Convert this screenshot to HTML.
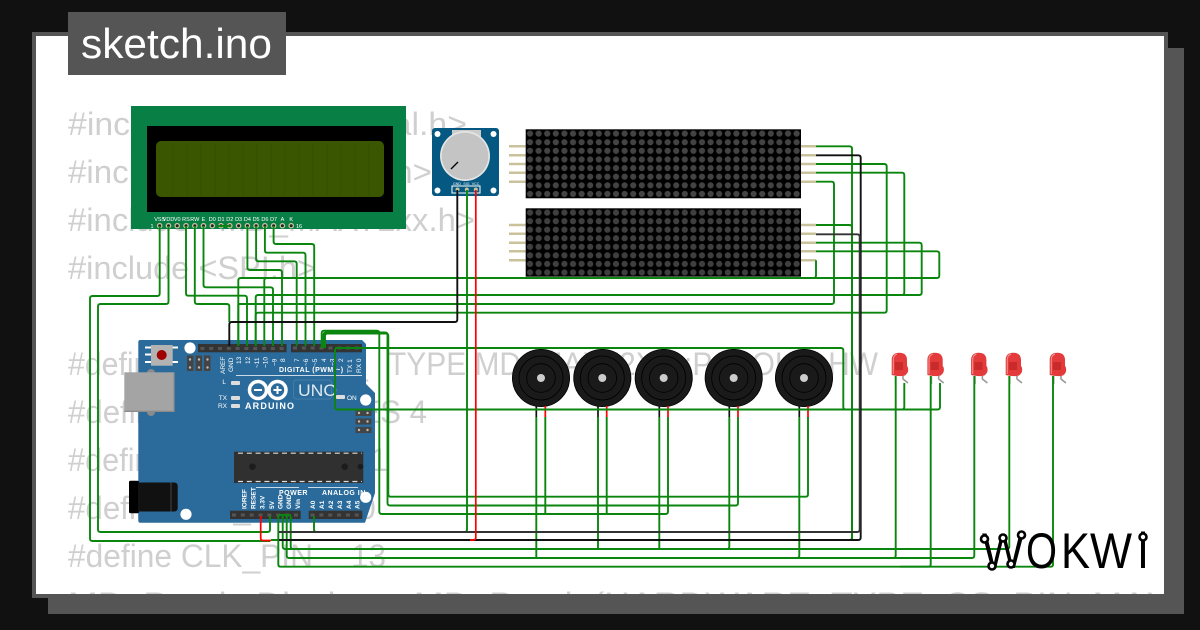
<!DOCTYPE html>
<html><head><meta charset="utf-8"><style>
html,body{margin:0;padding:0;background:#111;width:1200px;height:630px;overflow:hidden}
svg{display:block}
text{font-family:"Liberation Sans",sans-serif}
.c{fill:#cfcfcf;font-size:32px}
.w{fill:none;stroke:#0a860f;stroke-width:1.9;stroke-linejoin:round}
.k{fill:none;stroke:#111;stroke-width:1.9;stroke-linejoin:round}
.r{fill:none;stroke:#f00;stroke-width:1.7;stroke-linejoin:round}
.pin{stroke:#c9c29a;stroke-width:2.5}
.l{fill:#fff;font-size:6.5px}
.b{fill:#fff;font-size:7px;font-weight:bold;letter-spacing:.5px}
.lcdl{fill:#fff;font-size:5.5px;text-anchor:middle}
</style></head><body>
<svg width="1200" height="630" viewBox="0 0 1200 630" xmlns="http://www.w3.org/2000/svg">
<defs>
<pattern id="dots" x="525.7" y="129.3" width="8.6" height="8.62" patternUnits="userSpaceOnUse"><circle cx="4.3" cy="4.3" r="3.1" fill="#434343"/></pattern>
<pattern id="dots2" x="525.7" y="208.3" width="8.6" height="8.55" patternUnits="userSpaceOnUse"><circle cx="4.3" cy="4.3" r="3.1" fill="#3f3f3f"/></pattern>
<pattern id="hdr" x="198" y="344" width="8.8" height="8.3" patternUnits="userSpaceOnUse"><rect width="8.8" height="8.3" fill="#333"/><rect x="2.4" y="3" width="4" height="3" fill="#555"/></pattern>
<clipPath id="cp"><rect x="36" y="36" width="1128" height="558"/></clipPath>
</defs>
<rect width="1200" height="630" fill="#111"/>
<rect x="48" y="48" width="1136" height="566" fill="#555"/>
<rect x="32" y="32" width="1136" height="566" fill="#555"/>
<rect x="36" y="36" width="1128" height="558" fill="#fff"/>
<g clip-path="url(#cp)">
<text class="c" x="68" y="135" textLength="399" lengthAdjust="spacingAndGlyphs">#include &lt;LiquidCrystal.h&gt;</text>
<text class="c" x="68" y="183" textLength="364" lengthAdjust="spacingAndGlyphs">#include &lt;MD_Parola.h&gt;</text>
<text class="c" x="68" y="231" textLength="407" lengthAdjust="spacingAndGlyphs">#include &lt;MD_MAX72xx.h&gt;</text>
<text class="c" x="68" y="279" textLength="248" lengthAdjust="spacingAndGlyphs">#include &lt;SPI.h&gt;</text>
<text class="c" x="68" y="375" textLength="300" lengthAdjust="spacingAndGlyphs">#define HARDWARE_</text>
<text class="c" x="388" y="375" textLength="490" lengthAdjust="spacingAndGlyphs">TYPE MD_MAX72XX::PAROLA_HW</text>
<text class="c" x="68" y="423" textLength="359" lengthAdjust="spacingAndGlyphs">#define MAX_DEVICES 4</text>
<text class="c" x="68" y="471" textLength="220" lengthAdjust="spacingAndGlyphs">#define CS_PIN</text><text class="c" x="370" y="471">1</text>
<text class="c" x="68" y="519" textLength="235" lengthAdjust="spacingAndGlyphs">#define DIN_PIN</text><text class="c" x="358" y="519">0</text>
<text class="c" x="68" y="567" textLength="245" lengthAdjust="spacingAndGlyphs">#define CLK_PIN</text><text class="c" x="351" y="567" textLength="35" lengthAdjust="spacingAndGlyphs">13</text>
<text class="c" x="68" y="615" textLength="1300" lengthAdjust="spacingAndGlyphs">MD_Parola Display = MD_Parola(HARDWARE_TYPE, CS_PIN, MAX_DEVICES);</text>
</g>

<!-- LCD -->
<rect x="131" y="106" width="275" height="123" fill="#087f45"/>
<rect x="147" y="126" width="246" height="86" fill="#000"/>
<rect x="156" y="141" width="228" height="56" rx="5" fill="#3a5600"/>
<g stroke="#365000" stroke-width="1">
<path d="M173 143V195M187 143V195M201 143V195M215 143V195M229 143V195M243 143V195M257 143V195M271 143V195M285 143V195M299 143V195M313 143V195M327 143V195M341 143V195M355 143V195M369 143V195"/>
</g>
<g class="lcdl">
<text x="159.7" y="221">VSS</text><text x="168.5" y="221">VDD</text><text x="177.2" y="221">V0</text><text x="186" y="221">RS</text><text x="194.8" y="221">RW</text><text x="203.5" y="221">E</text><text x="212.3" y="221">D0</text><text x="221" y="221">D1</text><text x="229.8" y="221">D2</text><text x="238.6" y="221">D3</text><text x="247.4" y="221">D4</text><text x="256.1" y="221">D5</text><text x="264.9" y="221">D6</text><text x="273.6" y="221">D7</text><text x="282.4" y="221">A</text><text x="291.2" y="221">K</text>
<text x="152" y="228">1</text><text x="299" y="228">16</text>
</g>
<g fill="#c9c29a">
<circle cx="159.7" cy="225.7" r="2.8"/><circle cx="168.5" cy="225.7" r="2.8"/><circle cx="177.2" cy="225.7" r="2.8"/><circle cx="186" cy="225.7" r="2.8"/><circle cx="194.8" cy="225.7" r="2.8"/><circle cx="203.5" cy="225.7" r="2.8"/><circle cx="212.3" cy="225.7" r="2.8"/><circle cx="221" cy="225.7" r="2.8"/><circle cx="229.8" cy="225.7" r="2.8"/><circle cx="238.6" cy="225.7" r="2.8"/><circle cx="247.4" cy="225.7" r="2.8"/><circle cx="256.1" cy="225.7" r="2.8"/><circle cx="264.9" cy="225.7" r="2.8"/><circle cx="273.6" cy="225.7" r="2.8"/><circle cx="282.4" cy="225.7" r="2.8"/><circle cx="291.2" cy="225.7" r="2.8"/>
</g>
<g fill="#222">
<circle cx="159.7" cy="225.7" r="1.5"/><circle cx="168.5" cy="225.7" r="1.5"/><circle cx="177.2" cy="225.7" r="1.5"/><circle cx="186" cy="225.7" r="1.5"/><circle cx="194.8" cy="225.7" r="1.5"/><circle cx="203.5" cy="225.7" r="1.5"/><circle cx="212.3" cy="225.7" r="1.5"/><circle cx="221" cy="225.7" r="1.5"/><circle cx="229.8" cy="225.7" r="1.5"/><circle cx="238.6" cy="225.7" r="1.5"/><circle cx="247.4" cy="225.7" r="1.5"/><circle cx="256.1" cy="225.7" r="1.5"/><circle cx="264.9" cy="225.7" r="1.5"/><circle cx="273.6" cy="225.7" r="1.5"/><circle cx="282.4" cy="225.7" r="1.5"/><circle cx="291.2" cy="225.7" r="1.5"/>
</g>
<path class="w" d="M217 226H231"/>

<!-- Pot -->
<rect x="432" y="128" width="67" height="68" rx="3" fill="#045881"/>
<g fill="#fff"><circle cx="437.5" cy="134" r="3"/><circle cx="493.5" cy="134" r="3"/><circle cx="437.5" cy="190.5" r="3"/><circle cx="493.5" cy="190.5" r="3"/></g>
<rect x="452" y="130" width="29" height="8" fill="#ccc"/>
<circle cx="465" cy="156" r="25" fill="#e4e4e4"/>
<circle cx="465" cy="156" r="23.3" fill="#c4c4c4"/>
<path d="M451 169L458 162" stroke="#000" stroke-width="1.3"/>
<rect x="452" y="186" width="28" height="7" fill="none" stroke="#fff" stroke-width="1"/>
<g fill="#fff" font-size="3.6" text-anchor="middle"><text x="457" y="185">GND</text><text x="466.5" y="185">SIG</text><text x="475.5" y="185">VCC</text></g>
<g fill="#c9c29a"><circle cx="457.5" cy="189.5" r="2"/><circle cx="466.8" cy="189.5" r="2"/><circle cx="475.8" cy="189.5" r="2"/></g>

<!-- Matrices -->
<g class="pin">
<path d="M509 146.3H526M509 155.3H526M509 164H526M509 172.7H526M509 181.7H526M801 146.3H816M801 155.3H816M801 164H816M801 172.7H816M801 181.7H816"/>
<path d="M509 225H526M509 233.7H526M509 242.7H526M509 251.3H526M509 260.3H526M801 225H816M801 233.7H816M801 242.7H816M801 251.3H816M801 260.3H816"/>
</g>
<rect x="525.7" y="129.3" width="275.3" height="69" fill="#000"/>
<rect x="525.7" y="129.3" width="275.3" height="69" fill="url(#dots)"/>
<rect x="525.7" y="208.3" width="275.3" height="68.4" fill="#000"/>
<rect x="525.7" y="208.3" width="275.3" height="68.4" fill="url(#dots2)"/>

<!-- Arduino -->
<path d="M138.3 342Q138.3 340 140.3 340H362L366 344V384L375 393V493L365 522.7H140.3Q138.3 522.7 138.3 520.7Z" fill="#2b6b9b"/>
<circle cx="190" cy="348" r="5.6" fill="#fff"/><circle cx="365.7" cy="400" r="5.6" fill="#fff"/><circle cx="186" cy="514.3" r="5.6" fill="#fff"/><circle cx="365.7" cy="497.3" r="5.6" fill="#fff"/>
<!-- reset -->
<g stroke="#fff" stroke-width="2"><path d="M145 347.5H151M145 354.5H151M145 362H151M172 347.5H178M172 362H178"/></g>
<rect x="151" y="345" width="21.7" height="20.7" fill="#b3b3b3"/>
<circle cx="161.7" cy="355" r="5" fill="#a00000"/>
<!-- icsp -->
<g fill="#444"><rect x="187" y="355.5" width="6.5" height="15.5"/><rect x="195.5" y="355.5" width="6.5" height="15.5"/><rect x="204" y="355.5" width="6.5" height="15.5"/><rect x="355.5" y="410" width="16" height="6"/><rect x="355.5" y="418.5" width="16" height="6"/><rect x="355.5" y="427" width="16" height="6"/></g>
<g fill="#bbb"><circle cx="190" cy="359.5" r="1.2"/><circle cx="199" cy="359.5" r="1.2"/><circle cx="207.5" cy="359.5" r="1.2"/><circle cx="190" cy="367.5" r="1.2"/><circle cx="199" cy="367.5" r="1.2"/><circle cx="207.5" cy="367.5" r="1.2"/><circle cx="359" cy="413" r="1.2"/><circle cx="367.5" cy="413" r="1.2"/><circle cx="359" cy="421.5" r="1.2"/><circle cx="367.5" cy="421.5" r="1.2"/><circle cx="359" cy="430" r="1.2"/><circle cx="367.5" cy="430" r="1.2"/></g>
<!-- usb -->
<circle cx="151" cy="373" r="4" fill="#8a8a8a"/><circle cx="151" cy="412" r="4" fill="#8a8a8a"/>
<rect x="124.3" y="372.3" width="49.7" height="39.7" fill="#a4a4a4"/>
<path d="M124.3 411.3H174V372.3" fill="none" stroke="#8c8c8c" stroke-width="1.3"/>
<!-- jack -->
<rect x="129" y="480.7" width="10" height="32.5" rx="1.5" fill="#000"/>
<path d="M138 482.5H174Q177.7 482.5 177.7 486V508Q177.7 511.5 174 511.5H138Z" fill="#111"/>
<rect x="170" y="482.5" width="2" height="29" fill="#2b2b2b"/>
<!-- headers -->
<rect x="198" y="344" width="88.6" height="8.3" fill="url(#hdr)"/>
<rect x="291" y="344" width="71" height="8.3" fill="#333"/>
<path d="M293 348H360" stroke="#555" stroke-width="3" stroke-dasharray="4 4.85"/>
<rect x="230" y="510.7" width="70.7" height="8.3" fill="#333"/>
<path d="M232 515H299" stroke="#555" stroke-width="3" stroke-dasharray="4 4.85"/>
<rect x="308.7" y="510.7" width="53.6" height="8.3" fill="#333"/>
<path d="M310.5 515H361" stroke="#555" stroke-width="3" stroke-dasharray="4 4.85"/>
<!-- chip -->
<rect x="234" y="451.7" width="129.3" height="31.3" fill="#303030"/>
<path d="M238 453.2H362M238 481.5H362" stroke="#ddd" stroke-width="1.2" stroke-dasharray="5 3.8"/>
<g fill="#1c1c1c"><circle cx="252.5" cy="466.7" r="3.3"/><circle cx="344.7" cy="466.7" r="3.3"/><circle cx="360.5" cy="466.7" r="2.8"/></g>
<!-- labels top -->
<g class="l">
<text transform="translate(225,374) rotate(-90)">AREF</text>
<text transform="translate(233,372) rotate(-90)">GND</text>
<text transform="translate(241,364) rotate(-90)">13</text>
<text transform="translate(250,364) rotate(-90)">12</text>
<text transform="translate(259,368) rotate(-90)">~11</text>
<text transform="translate(267.5,368) rotate(-90)">~10</text>
<text transform="translate(276.5,366) rotate(-90)">~9</text>
<text transform="translate(285,362) rotate(-90)">8</text>
<text transform="translate(299,362) rotate(-90)">7</text>
<text transform="translate(308,366) rotate(-90)">~6</text>
<text transform="translate(317,366) rotate(-90)">~5</text>
<text transform="translate(326,362) rotate(-90)">4</text>
<text transform="translate(334.5,366) rotate(-90)">~3</text>
<text transform="translate(343,362) rotate(-90)">2</text>
<text transform="translate(352,373) rotate(-90)">TX 1</text>
<text transform="translate(361,373) rotate(-90)">RX 0</text>
</g>
<text class="b" x="279" y="372">DIGITAL (PWM ~)</text>
<path d="M236 375.5H362" stroke="#fff" stroke-width=".7"/>
<g class="l" text-anchor="end"><text x="226" y="384">L</text><text x="227" y="400">TX</text><text x="227" y="408">RX</text></g>
<g fill="#ddd"><rect x="231" y="381" width="9" height="4" rx="1"/><rect x="231" y="396" width="9" height="4" rx="1"/><rect x="231" y="404" width="9" height="4" rx="1"/><rect x="336" y="395" width="9" height="4" rx="1"/></g>
<text class="l" x="347" y="400">ON</text>
<!-- logo -->
<g fill="none" stroke="#fff" stroke-width="3.5"><circle cx="258" cy="390" r="8.5"/><circle cx="277.5" cy="390" r="8.5"/></g>
<path d="M254 390H262M273.5 390H281.5M277.5 386V394" stroke="#fff" stroke-width="2"/>
<text x="245" y="409" fill="#fff" font-size="9" font-weight="bold" textLength="49" lengthAdjust="spacing">ARDUINO</text>
<rect x="293.5" y="380" width="38" height="19" rx="3" fill="none" stroke="#4c85b0" stroke-width=".7"/>
<text x="298" y="396" fill="#dfe8f0" font-size="17" textLength="39" lengthAdjust="spacingAndGlyphs">UNO</text>
<!-- labels bottom -->
<g class="l" font-weight="bold">
<text transform="translate(246.5,509) rotate(-90)">IOREF</text>
<text transform="translate(255.5,509) rotate(-90)">RESET</text>
<text transform="translate(264.5,509) rotate(-90)">3.3V</text>
<text transform="translate(274,509) rotate(-90)">5V</text>
<text transform="translate(282.5,509) rotate(-90)">GND</text>
<text transform="translate(291,509) rotate(-90)">GND</text>
<text transform="translate(300,509) rotate(-90)">Vin</text>
<text transform="translate(315,509) rotate(-90)">A0</text>
<text transform="translate(324,509) rotate(-90)">A1</text>
<text transform="translate(333,509) rotate(-90)">A2</text>
<text transform="translate(342,509) rotate(-90)">A3</text>
<text transform="translate(351,509) rotate(-90)">A4</text>
<text transform="translate(359.5,509) rotate(-90)">A5</text>
</g>
<text class="b" x="279" y="495">POWER</text>
<text class="b" x="322" y="495">ANALOG IN</text>
<path d="M256 487.5H299M308 487.5H358" stroke="#fff" stroke-width=".7"/>

<!-- Buzzers -->
<g stroke="#000" stroke-width=".8">
<circle cx="541" cy="378" r="28.6" fill="#1a1a1a"/><circle cx="541" cy="378" r="22" fill="none"/><circle cx="541" cy="378" r="14.3" fill="none"/>
<circle cx="602.3" cy="378" r="28.6" fill="#1a1a1a"/><circle cx="602.3" cy="378" r="22" fill="none"/><circle cx="602.3" cy="378" r="14.3" fill="none"/>
<circle cx="663.7" cy="378" r="28.6" fill="#1a1a1a"/><circle cx="663.7" cy="378" r="22" fill="none"/><circle cx="663.7" cy="378" r="14.3" fill="none"/>
<circle cx="733.7" cy="378" r="28.6" fill="#1a1a1a"/><circle cx="733.7" cy="378" r="22" fill="none"/><circle cx="733.7" cy="378" r="14.3" fill="none"/>
<circle cx="804" cy="378" r="28.6" fill="#1a1a1a"/><circle cx="804" cy="378" r="22" fill="none"/><circle cx="804" cy="378" r="14.3" fill="none"/>
</g>
<g fill="#ccc"><circle cx="541" cy="378" r="4"/><circle cx="602.3" cy="378" r="4"/><circle cx="663.7" cy="378" r="4"/><circle cx="733.7" cy="378" r="4"/><circle cx="804" cy="378" r="4"/></g>
<path d="M536.3 406V417M598 406V417M659.3 406V417M729.3 406V417M799.3 406V417" stroke="#111" stroke-width="1.7"/>
<path d="M545.3 406V417M606.7 406V417M668 406V417M738 406V417M808 406V417" stroke="#f00" stroke-width="1.7"/>

<!-- LEDs -->
<g id="leds">
<g stroke="#999" stroke-width="1.6" fill="none"><path d="M895.7 376V384M903 376V379L908 383M931.4 376V384M938.7 376V379L943.7 383M975 376V384M982.4 376V379L987.4 383M1009.7 376V384M1017 376V379L1022 383M1053.7 376V384M1061 376V379L1066 383"/></g>
<g fill="#e33b3b">
<path d="M891.7 375V360Q891.7 352.7 899.3 352.7T907 360V366Q908.2 367 908.2 370T905 375.5Q900 377 891.7 375Z"/>
<path d="M927.4 375V360Q927.4 352.7 935 352.7T942.7 360V366Q943.9 367 943.9 370T940.7 375.5Q935.7 377 927.4 375Z"/>
<path d="M971.1 375V360Q971.1 352.7 978.7 352.7T986.4 360V366Q987.6 367 987.6 370T984.4 375.5Q979.4 377 971.1 375Z"/>
<path d="M1005.7 375V360Q1005.7 352.7 1013.3 352.7T1021 360V366Q1022.2 367 1022.2 370T1019 375.5Q1014 377 1005.7 375Z"/>
<path d="M1049.7 375V360Q1049.7 352.7 1057.3 352.7T1065 360V366Q1066.2 367 1066.2 370T1063 375.5Q1058 377 1049.7 375Z"/>
</g>
<g fill="#c92a2a"><rect x="895" y="362" width="8" height="8"/><rect x="930.7" y="362" width="8" height="8"/><rect x="974.4" y="362" width="8" height="8"/><rect x="1009" y="362" width="8" height="8"/><rect x="1053" y="362" width="8" height="8"/></g>
<g fill="none" stroke="#f58f8f" stroke-width="1.1"><path d="M893.3 374V360Q893.3 355 897 354.2M929 374V360Q929 355 932.7 354.2M972.7 374V360Q972.7 355 976.4 354.2M1007.3 374V360Q1007.3 355 1011 354.2M1051.3 374V360Q1051.3 355 1055 354.2"/></g>
</g>

<!-- Green wires -->
<g class="w">
<path d="M159.7 226V293.5Q159.7 296 157.2 296H92.5Q90 296 90 298.5V538.5Q90 541 92.5 541H270"/>
<path d="M168.5 226V301.5Q168.5 304 166 304H100.5Q98 304 98 306.5V529.5Q98 532 100.5 532H267.5Q270 532 270 529.5V516"/>
<path d="M186 226V293.2Q186 295.7 188.5 295.7H244.5Q247 295.7 247 298.2V346"/>
<path d="M194.8 226V301.5Q194.8 304 197.3 304H226.8Q229.3 304 229.3 306.5V322"/>
<path d="M203.5 226V284.8Q203.5 287.3 206 287.3H270.5Q273 287.3 273 289.8V346"/>
<path d="M247.4 226V267.5Q247.4 270 249.9 270H279.5Q282 270 282 272.5V346"/>
<path d="M256.1 226V258.8Q256.1 261.3 258.6 261.3H294.2Q296.7 261.3 296.7 263.8V346"/>
<path d="M264.9 226V250.2Q264.9 252.7 267.4 252.7H303Q305.5 252.7 305.5 255.2V346"/>
<path d="M273.6 226V241.5Q273.6 244 276.1 244H311.7Q314.2 244 314.2 246.5V346"/>
<path d="M816 146.3H849.5Q852 146.3 852 148.8V537.5Q852 540 849.5 540H271"/>
<path d="M816 225H849.5Q852 225 852 227.5V540"/>
<path d="M816 164H884.2Q886.7 164 886.7 166.5V310.2Q886.7 312.7 884.2 312.7H258.2Q255.7 312.7 255.7 315.2V346"/>
<path d="M816 172.7H901.8Q904.3 172.7 904.3 175.2V292.5Q904.3 295 901.8 295H258.2Q255.7 295 255.7 297.5V346"/>
<path d="M816 181.7H831.5Q834 181.7 834 184.2V301.5Q834 304 831.5 304H238.3V346"/>
<path d="M816 242.7H919.2Q921.7 242.7 921.7 245.2V292.5Q921.7 295 919.2 295H880"/>
<path d="M816 251.3H936.8Q939.3 251.3 939.3 253.8V275.5Q939.3 278 936.8 278H266.8Q264.3 278 264.3 280.5V346"/>
<path d="M816 260.3V275.5Q816 278 813.5 278H240.8Q238.3 278 238.3 280.5V346"/>
<path d="M467 190V529.5Q467 532 464.5 532H316.5Q314 532 314 529.5V516"/>
<path d="M335 349V407Q335 409.5 337.5 409.5H937.5Q940 409.5 940 407V383"/>
<path d="M335 348H840.8Q843.3 348 843.3 350.5V407Q843.3 409.5 845.8 409.5H901.8Q904.3 409.5 904.3 407V383"/>
<path d="M321.7 348V333.2Q321.7 330.7 324.2 330.7H376.8Q379.3 330.7 379.3 333.2V511.5Q379.3 514 381.8 514H665.5Q668 514 668 511.5V417"/>
<path d="M545.3 417V514M606.7 417V514"/>
<path d="M323.5 348V335Q323.5 332.5 326 332.5H385Q387.5 332.5 387.5 335V503Q387.5 505.5 390 505.5H735.5Q738 505.5 738 503V417"/>
<path d="M325 348V336Q325 333.5 327.5 333.5H385.8Q388.3 333.5 388.3 336V494.2Q388.3 496.7 390.8 496.7H805.5Q808 496.7 808 494.2V417"/>
<path d="M536.3 417V558M598 417V549M659.3 417V549"/>
<path d="M729.3 417V546.5Q729.3 549 726.8 549H600M799.3 417V555.5Q799.3 558 796.8 558H700"/>
<path d="M278.3 516V564.2Q278.3 566.7 280.8 566.7H1050.5Q1053 566.7 1053 564.2V376"/>
<path d="M282.7 516V546.5Q282.7 549 285.2 549H1006.8Q1009.3 549 1009.3 546.5V376"/>
<path d="M286.7 516V555.5Q286.7 558 289.2 558H971.8Q974.3 558 974.3 555.5V376"/>
<path d="M290.7 516V546.5Q290.7 549 293.2 549H310"/>
<path d="M895.7 376V555.5Q895.7 558 893.2 558H880M930.7 376V564.2Q930.7 566.7 928.2 566.7H900"/>
<path d="M278.3 515H291"/>
</g>
<!-- Black wires -->
<path class="k" d="M229.3 346V324.5Q229.3 322 231.8 322H454.8Q457.3 322 457.3 319.5V190"/>
<path class="k" d="M816 155.3H858.2Q860.7 155.3 860.7 157.8V537.5Q860.7 540 858.2 540H279"/>
<path d="M816 234.3H857.2Q859.7 234.3 859.7 236.8V529.5Q859.7 532 857.2 532H279" fill="none" stroke="#333" stroke-width="1.9"/>
<!-- Red wires -->
<path class="r" d="M475.8 190V537.5Q475.8 540 473.3 540H470"/>
<path class="r" d="M260.7 516V538Q260.7 540.5 263.2 540.5H271"/>

<!-- tag -->
<rect x="68" y="12" width="218" height="63" fill="#555"/>
<text x="81" y="58" fill="#fff" font-size="42" textLength="191" lengthAdjust="spacingAndGlyphs">sketch.ino</text>

<!-- WOKWI logo -->
<g fill="#000" font-size="50">
<text x="982" y="568" textLength="42" lengthAdjust="spacingAndGlyphs">W</text>
<text x="1026" y="568" textLength="31" lengthAdjust="spacingAndGlyphs">O</text>
<text x="1061" y="568" textLength="29" lengthAdjust="spacingAndGlyphs">K</text>
<text x="1090" y="568" textLength="42" lengthAdjust="spacingAndGlyphs">W</text>
<text x="1138" y="568" textLength="10" lengthAdjust="spacingAndGlyphs">i</text>
</g>
<g fill="#fff" stroke="#000" stroke-width="2.6">
<circle cx="984.5" cy="539" r="3.5"/><circle cx="1003" cy="538" r="3.5"/><circle cx="1021.5" cy="535" r="3.5"/><circle cx="992" cy="566" r="3.5"/><circle cx="1011" cy="564" r="3.5"/><circle cx="1143" cy="537" r="3.5"/>
</g>
</svg>
</body></html>
